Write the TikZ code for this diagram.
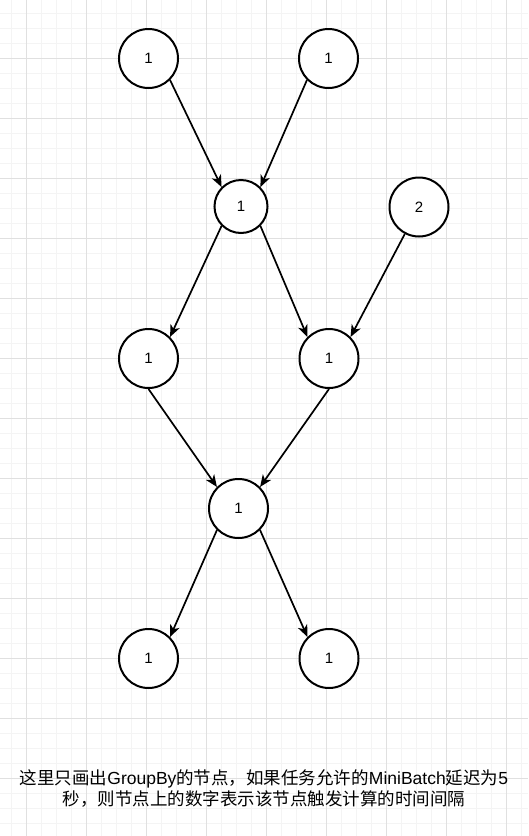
\documentclass[tikz,border=0pt]{standalone}
\usepackage{fontspec}
\setmainfont{Liberation Sans}
\newfontfamily\cjk{Noto Sans CJK SC}
\usetikzlibrary{arrows.meta}

\begin{document}
\begin{tikzpicture}
                [x=1pt, y=-1pt,
                vertex/.style={
                    circle,
                    draw,
                    line width=2pt,
                    fill=white,
                    minimum size=59pt,
                    inner sep=0pt,
                    font=\fontsize{15}{18}\selectfont
                },
                small/.style={vertex, minimum size=53pt},
                line/.style={
                    draw, line width=1.7pt,
                    -{Stealth[length=12pt, width=10pt, inset=3.5pt]}
                },
                minorgrid/.style={draw=gray!9, line width=0.9pt},
                majorgrid/.style={draw=gray!24, line width=0.9pt}
                ]

                % Canvas and background grid
                \useasboundingbox (0,0) rectangle (528,836);
                \fill[white] (0,0) rectangle (528,836);
                \foreach \x in {11,26,...,521}
                    \draw[minorgrid] (\x,0) -- (\x,836);
                \foreach \y in {13,28,...,833}
                    \draw[minorgrid] (0,\y) -- (528,\y);
                \foreach \x in {26,86,...,506}
                    \draw[majorgrid] (\x,0) -- (\x,836);
                \foreach \y in {58,118,...,778}
                    \draw[majorgrid] (0,\y) -- (528,\y);

                % GroupBy nodes
                \node[vertex] (src1) at (148.5,58.5) {1};
                \node[vertex] (src2) at (328.5,58.5) {1};
                \node[small]  (grp)  at (241,206.5)  {1};
                \node[vertex] (late) at (419,207)    {2};
                \node[vertex] (mid1) at (148.5,358.5) {1};
                \node[vertex] (mid2) at (329,358.5)  {1};
                \node[vertex] (join) at (238.5,508.5) {1};
                \node[vertex] (out1) at (148.5,658.5) {1};
                \node[vertex] (out2) at (329,658.5)  {1};

                % Edges
                \path [line] (src1.-45) -- (grp.135);
                \path [line] (src2.-135) -- (grp.45);
                \path [line] (grp.-135) -- (mid1.45);
                \path [line] (grp.-45) -- (mid2.135);
                \path [line] (late) -- (mid2.45);
                \path [line] (mid1.-90) -- (join.135);
                \path [line] (mid2.-90) -- (join.45);
                \path [line] (join.-135) -- (out1.45);
                \path [line] (join.-45) -- (out2.135);

                % Caption
                \node[align=center, font=\cjk\fontsize{17.5}{21}\selectfont] (note) at (264,789)
                    {这里只画出{\rmfamily GroupBy}的节点，如果任务允许的{\rmfamily MiniBatch}延迟为{\rmfamily 5}\\
                    秒，则节点上的数字表示该节点触发计算的时间间隔};
            \end{tikzpicture}
\end{document}
